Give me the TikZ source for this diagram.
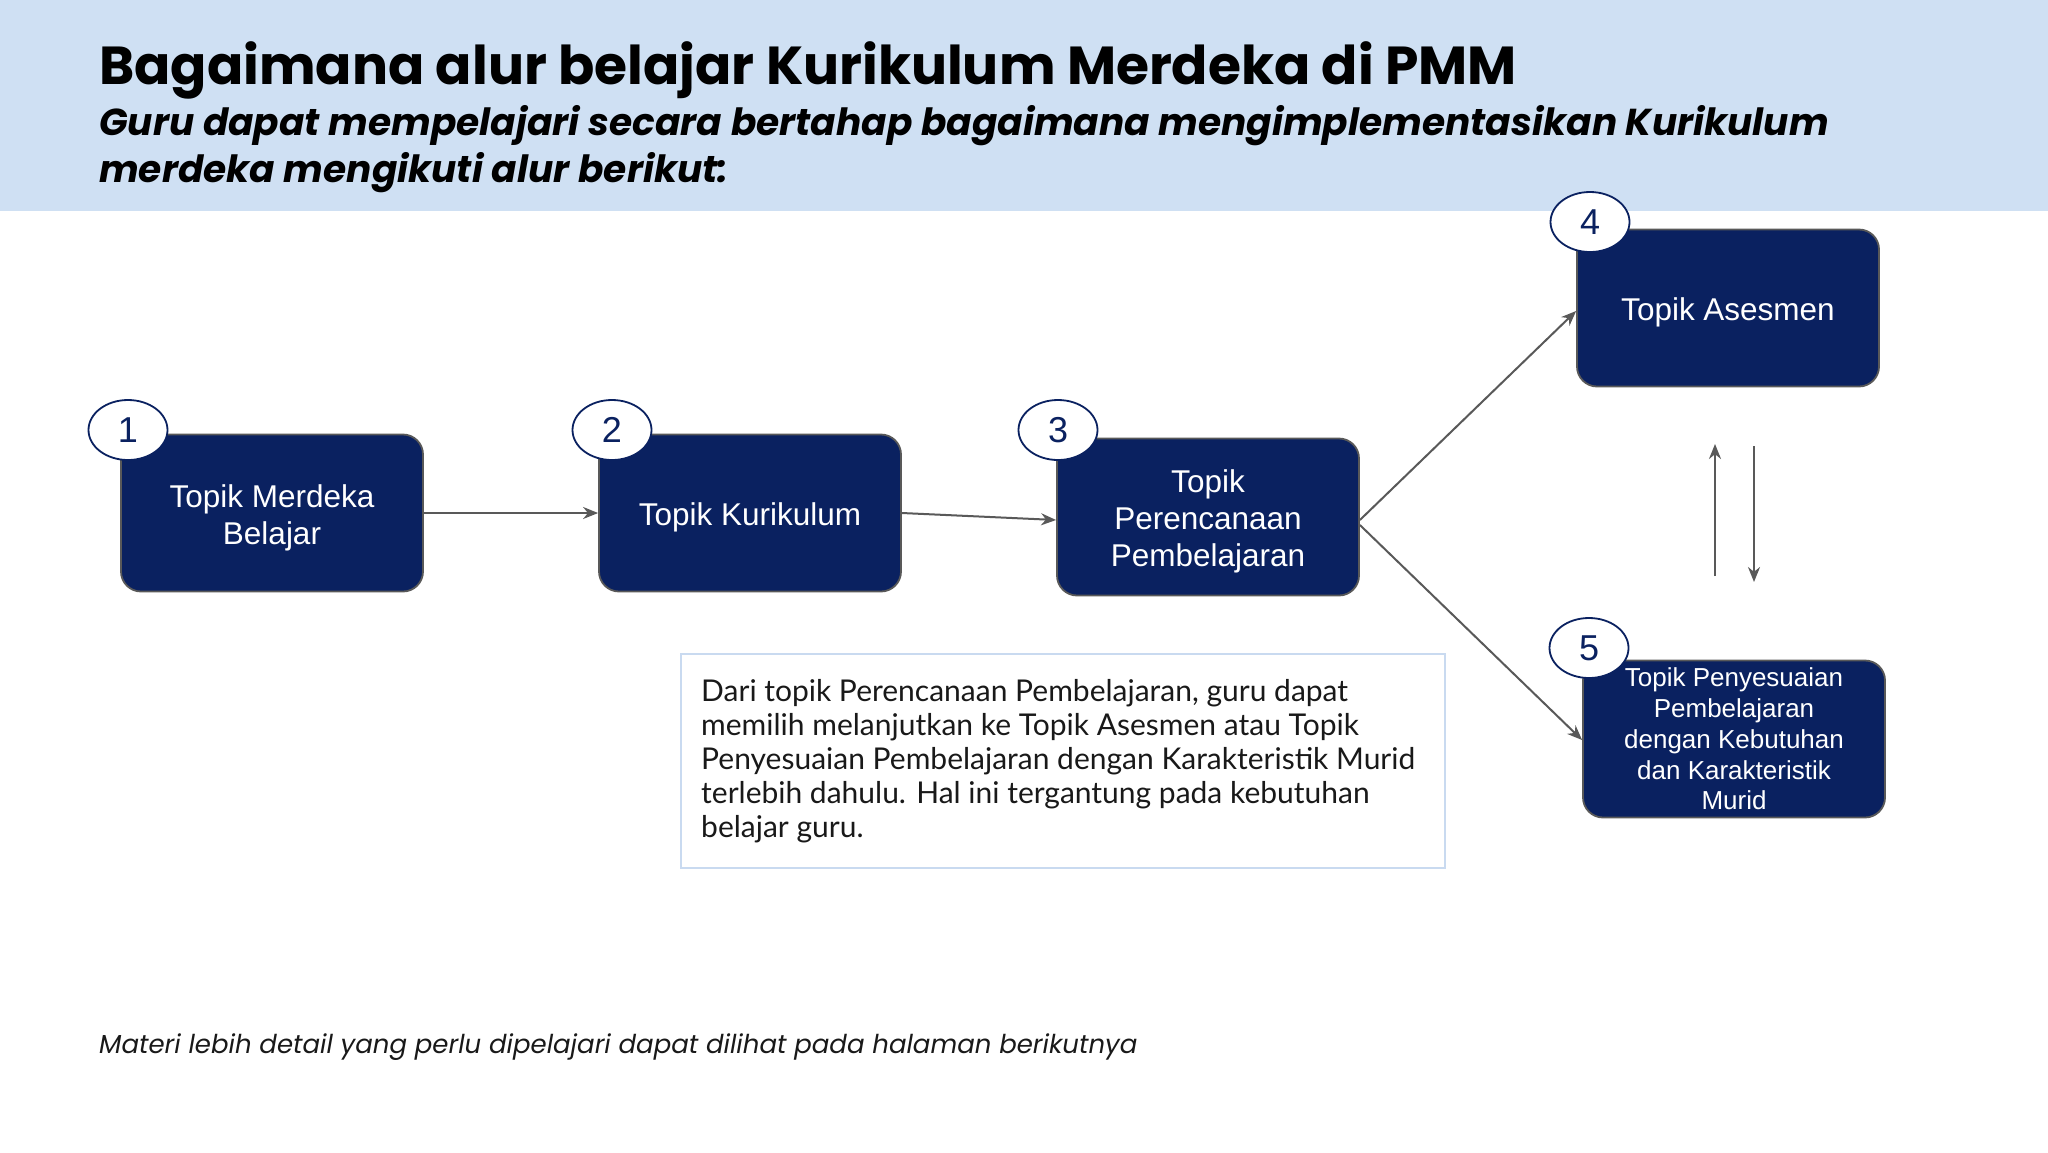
\documentclass[tikz,border=0pt]{standalone}
\usepackage{fontspec}
\setmainfont{Liberation Sans}
\newfontfamily\titlefont{Poppins}
\newfontfamily\bodyfont{Lato}
\usetikzlibrary{shapes.geometric,arrows.meta}
\definecolor{hdr}{HTML}{CFE0F3}
\definecolor{navy}{HTML}{0A2160}
\definecolor{edge}{HTML}{595959}
\definecolor{tbox}{HTML}{C9DAF0}
\tikzset{
  topic/.style={rounded corners=20pt, fill=navy, draw=edge, line width=1.8pt,
    minimum width=302pt, minimum height=157pt, align=center, text=white,
    inner sep=2pt},
  numbadge/.style={ellipse, draw=navy, line width=1.8pt, fill=white,
    minimum width=79pt, minimum height=60pt, inner sep=0pt, text=navy,
    font=\fontsize{36}{36}\selectfont},
  flow/.style={draw=edge, line width=2pt, -{Stealth[length=15pt,width=12pt]}}
}
\begin{document}
\begin{tikzpicture}[x=1pt,y=-1pt]
\useasboundingbox (0,0) rectangle (2048,1152);
\fill[white] (0,0) rectangle (2048,1152);
\fill[hdr] (0,0) rectangle (2048,211);

\node[anchor=base west, inner sep=0pt, font=\titlefont\bfseries\fontsize{53.5}{60}\selectfont] (title) at (99,84) {Bagaimana alur belajar Kurikulum Merdeka di PMM};
\node[anchor=base west, inner sep=0pt, align=left, font=\titlefont\bfseries\itshape\fontsize{37.5}{47}\selectfont] (sub) at (99,182) {Guru dapat mempelajari secara bertahap bagaimana mengimplementasikan Kurikulum\\merdeka mengikuti alur berikut:};

\node[topic, text depth=0pt, font=\fontsize{31.5}{37}\selectfont] (b1) at (272,513) {\strut Topik Merdeka\\Belajar};
\node[topic, text depth=0pt, font=\fontsize{31.5}{37}\selectfont] (b2) at (750,513) {\strut Topik Kurikulum};
\node[topic, text depth=0pt, font=\fontsize{31.5}{37}\selectfont] (b3) at (1208,517) {\strut Topik\\Perencanaan\\Pembelajaran};
\node[topic, text depth=0pt, font=\fontsize{31.5}{37}\selectfont] (b4) at (1728,308) {\strut Topik Asesmen};
\node[topic, font=\fontsize{26}{30.7}\selectfont] (b5) at (1734,739) {Topik Penyesuaian\\Pembelajaran\\dengan Kebutuhan\\dan Karakteristik\\Murid};

\node[numbadge] (n1) at (128,430) {1};
\node[numbadge] (n2) at (612,430) {2};
\node[numbadge] (n3) at (1058,430) {3};
\node[numbadge] (n4) at (1590,222) {4};
\node[numbadge] (n5) at (1589,648) {5};

\draw[flow] (b1.east) -- (b2.west);
\draw[flow] (b2.east) -- ([yshift=-3pt]b3.west);
\draw[flow] ([yshift=-3pt]b3.east) -- ([yshift=-3pt]b4.west);
\draw[flow] ([yshift=-8pt]b3.east) -- ([yshift=-1pt]b5.west);
\coordinate (u1) at (1715,576);
\coordinate (u2) at (1715,444);
\coordinate (d1) at (1754,446);
\coordinate (d2) at (1754,582);
\draw[flow] (u1) -- (u2);
\draw[flow] (d1) -- (d2);

\node[draw=tbox, line width=2pt, minimum width=764pt, minimum height=214pt, anchor=north west, inner sep=0pt] (tb) at (680,653) {};
\node[anchor=base west, inner sep=0pt, align=left, text=black!90, font=\bodyfont\fontsize{30}{34}\selectfont] (tbt) at (701,837) {Dari topik Perencanaan Pembelajaran, guru dapat\\memilih melanjutkan ke Topik Asesmen atau Topik\\Penyesuaian Pembelajaran dengan Karakteristik Murid\\terlebih dahulu. Hal ini tergantung pada kebutuhan\\belajar guru.};

\node[anchor=base west, inner sep=0pt, text=black!90, font=\titlefont\itshape\fontsize{26}{30}\selectfont] (foot) at (99,1053) {Materi lebih detail yang perlu dipelajari dapat dilihat pada halaman berikutnya};
\end{tikzpicture}
\end{document}
